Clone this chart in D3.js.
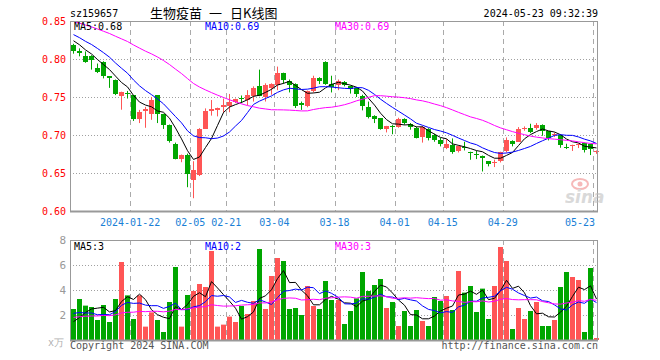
<!DOCTYPE html>
<html><head><meta charset="utf-8">
<script src="https://cdn.jsdelivr.net/npm/d3@7"></script>
<style>body{margin:0;background:#fff}svg{display:block}</style>
</head><body>
<svg id="c" width="660" height="360"></svg>
<script>
const dates = ["2024-01-08","2024-01-09","2024-01-10","2024-01-11","2024-01-12","2024-01-15","2024-01-16","2024-01-17","2024-01-18","2024-01-19",
"2024-01-22","2024-01-23","2024-01-24","2024-01-25","2024-01-26","2024-01-29","2024-01-30","2024-01-31","2024-02-01","2024-02-02",
"2024-02-05","2024-02-06","2024-02-07","2024-02-08","2024-02-19","2024-02-20","2024-02-21","2024-02-22","2024-02-23","2024-02-26",
"2024-02-27","2024-02-28","2024-02-29","2024-03-01","2024-03-04","2024-03-05","2024-03-06","2024-03-07","2024-03-08","2024-03-11",
"2024-03-12","2024-03-13","2024-03-14","2024-03-15","2024-03-18","2024-03-19","2024-03-20","2024-03-21","2024-03-22","2024-03-25",
"2024-03-26","2024-03-27","2024-03-28","2024-03-29","2024-04-01","2024-04-02","2024-04-03","2024-04-08","2024-04-09","2024-04-10",
"2024-04-11","2024-04-12","2024-04-15","2024-04-16","2024-04-17","2024-04-18","2024-04-19","2024-04-22","2024-04-23","2024-04-24",
"2024-04-25","2024-04-26","2024-04-29","2024-04-30","2024-05-06","2024-05-07","2024-05-08","2024-05-09","2024-05-10","2024-05-13",
"2024-05-14","2024-05-15","2024-05-16","2024-05-17","2024-05-20","2024-05-21","2024-05-22","2024-05-23"];

const open = [.818,.8105,.8035,.804,.7885,.7955,.777,.772,.7517,.7555,
.752,.721,.7315,.727,.752,.727,.7138,.6884,.6678,.6743,
.641,.648,.7085,.7313,.7335,.737,.7385,.744,.7485,.7465,
.7508,.764,.750,.762,.766,.7815,.7705,.7675,.742,.7377,
.7575,.775,.7956,.7675,.7653,.770,.764,.7614,.7517,.7368,
.7254,.7218,.7078,.7115,.7105,.7214,.714,.7087,.698,.7078,
.700,.6937,.6823,.6872,.6784,.684,.6775,.6748,.6727,.6657,
.6631,.6652,.6784,.692,.6911,.708,.7095,.709,.7131,.7047,
.6999,.7003,.6848,.6863,.687,.6893,.6876,.678];
const high = [.820,.814,.810,.805,.794,.797,.777,.773,.757,.758,
.7525,.733,.737,.750,.752,.728,.7138,.690,.6743,.6755,
.6655,.709,.735,.746,.736,.748,.754,.748,.752,.759,
.764,.786,.768,.768,.790,.782,.773,.768,.744,.7585,
.778,.776,.797,.778,.773,.771,.765,.763,.753,.744,
.726,.7218,.712,.713,.7227,.722,.7157,.711,.712,.709,
.7017,.696,.6947,.6955,.6863,.6912,.678,.6793,.673,.6657,
.6675,.678,.6968,.693,.7104,.7113,.7148,.7157,.714,.705,
.7034,.701,.6885,.6872,.689,.690,.6885,.6797];
const low = [.807,.8035,.795,.786,.7815,.7745,.762,.7525,.7333,.748,
.7185,.7157,.7095,.720,.7157,.708,.690,.668,.6642,.6313,
.6168,.646,.708,.7255,.7245,.729,.730,.742,.742,.739,
.744,.751,.744,.753,.759,.7675,.756,.7355,.733,.7365,
.756,.767,.766,.756,.759,.764,.7545,.750,.7324,.7218,
.7157,.707,.7034,.701,.7096,.7135,.707,.6955,.690,.6929,
.6911,.685,.6814,.6753,.677,.6797,.6674,.6683,.652,.6587,
.6578,.6639,.677,.685,.691,.7056,.7025,.707,.699,.6929,
.6973,.6832,.6815,.679,.6828,.677,.6736,.6753];
const close = [.810,.8075,.7965,.799,.7835,.777,.7745,.7535,.757,.7545,
.721,.7305,.734,.7455,.727,.7125,.6918,.669,.6743,.6493,
.6546,.7082,.7313,.7336,.735,.740,.744,.7475,.7475,.753,
.7622,.7517,.766,.7675,.7815,.773,.7655,.7385,.740,.7575,
.775,.7705,.767,.7627,.7715,.7657,.761,.7535,.7377,.7236,
.721,.7078,.7113,.710,.7214,.7157,.710,.6964,.7105,.6955,
.693,.6885,.6876,.677,.6859,.6832,.677,.6745,.6692,.6622,
.6644,.677,.6929,.6885,.7078,.709,.7043,.7131,.7052,.6955,
.7016,.6867,.6845,.6872,.6876,.6797,.6815,.679];
const volume = [2.48,3.28,2.75,2.64,1.6,2.8,1.44,3.28,6.24,3.57,
1.68,3.57,1.07,2.21,1.6,0.64,3.04,5.84,1.07,3.6,
3.92,4.48,4.24,7.12,1.07,1.23,1.87,1.44,2.72,2.08,
3.12,7.28,2.48,5.12,6.56,6.32,2.48,2.56,2.0,4.32,
2.72,2.48,4.72,3.2,3.2,1.28,2.32,3.33,5.44,3.92,
4.4,4.88,2.56,3.04,1.12,2.32,1.12,2.4,1.52,1.12,
3.44,3.12,3.52,2.4,5.52,3.79,4.32,2.24,4.11,1.68,
4.32,7.44,6.32,0.88,2.56,1.68,2.32,3.04,1.12,1.12,
1.6,4.24,5.44,5.04,4.8,0.64,5.76,0.16];
// closes / volumes of the 29 sessions before the window
const prevClose = [.875,.872,.870,.868,.866,.864,.862,.860,.858,.857,.856,.855,.852,.850,
.852,.850,.850,.849,.848,.848,
.848,.845,.840,.836,.832,.834,.830,.826,.820];
const prevVolume = [1.8,1.5,2.1,1.4,1.6,1.9,1.3,1.7,2.0,1.5,1.6,1.8,1.2,1.7,1.9,1.4,1.6,1.8,1.5,1.7,
2.5,3.2,2.6,3.0,2.6,1.63,0.75,1.24,1.25];
const tickDates = ["2024-01-22","2024-02-05","2024-02-21","2024-03-04","2024-03-18","2024-04-01","2024-04-15","2024-04-29","2024-05-23"];
const priceTicks = [0.60,0.65,0.70,0.75,0.80,0.85];
const volTicks = [2,4,6,8];
const maPeriods = [5,10,30];
const maColors = ["#000000","#0000ff","#ff00ff"];
const titleParts = ["生物疫苗", "一", "日K线图"];

const svg = d3.select("#c");
const L = 70, R = 598, PT = 21, PB = 211, VT = 240, VB = 340;
const MONO = "'DejaVu Sans Mono', monospace";
const UP = "#ff5555", DOWN = "#00a600";
const n = dates.length;

const x = d3.scaleBand().domain(d3.range(n)).range([L, R]).paddingInner(1/6).paddingOuter(0).align(0);
const cx = i => Math.floor(x(i) + 0.5) + 3.5;
const y = d3.scaleLinear().domain([0.60, 0.85]).range([PB, PT]);
const yv = d3.scaleLinear().domain([0, 8]).range([VB, VT]);

function movAvg(series, prev, p) {
  const all = prev.concat(series), off = prev.length;
  return series.map((_, i) => d3.mean(all.slice(off + i - p + 1, off + i + 1)));
}

// grids
function panelGrid(top, bottom, yScale, ticks) {
  const g = svg.append("g");
  g.selectAll("line.h").data(ticks).join("line")
    .attr("x1", L).attr("x2", R)
    .attr("y1", d => Math.round(yScale(d)) + 0.5).attr("y2", d => Math.round(yScale(d)) + 0.5)
    .attr("stroke", "#a0a0a0").attr("stroke-dasharray", "1,2");
  g.selectAll("line.v").data(tickDates).join("line")
    .attr("x1", d => Math.round(x(dates.indexOf(d))) + 0.5)
    .attr("x2", d => Math.round(x(dates.indexOf(d))) + 0.5)
    .attr("y1", top).attr("y2", bottom)
    .attr("stroke", "#aaaaaa").attr("stroke-dasharray", "5,4");
}
panelGrid(PT, PB, y, priceTicks.filter(d => d > 0.6 && d < 0.85));
panelGrid(VT, VB, yv, volTicks.filter(d => d < 8));

// candles
const cg = svg.append("g");
d3.range(n).forEach(i => {
  const up = close[i] >= open[i];
  const col = up ? UP : DOWN;
  cg.append("line").attr("x1", cx(i)).attr("x2", cx(i))
    .attr("y1", y(high[i])).attr("y2", y(low[i])).attr("stroke", col);
  const top = Math.round(y(Math.max(open[i], close[i])));
  const bot = Math.round(y(Math.min(open[i], close[i])));
  cg.append("rect").attr("x", cx(i) - 2.5).attr("width", 5)
    .attr("y", top).attr("height", Math.max(1, bot - top)).attr("fill", col);
});

// volume bars
svg.append("g").selectAll("rect").data(volume).join("rect")
  .attr("x", (d, i) => cx(i) - 2.5).attr("width", 5)
  .attr("y", d => yv(d)).attr("height", d => VB - yv(d))
  .attr("fill", (d, i) => close[i] >= open[i] ? UP : DOWN);

// moving averages
const pLine = d3.line().x((d, i) => cx(i)).y(d => y(d));
const vLine = d3.line().x((d, i) => cx(i)).y(d => yv(d));
const priceMA = maPeriods.map(p => movAvg(close, prevClose, p));
const volMA = maPeriods.map(p => movAvg(volume, prevVolume, p));
priceMA.forEach((m, k) => svg.append("path").attr("d", pLine(m)).attr("fill", "none").attr("stroke", maColors[k]).attr("stroke-width", 1));
volMA.forEach((m, k) => svg.append("path").attr("d", vLine(m)).attr("fill", "none").attr("stroke", maColors[k]).attr("stroke-width", 1));

// frames
[[PT, PB], [VT, VB]].forEach(([t, b]) => {
  svg.append("rect").attr("x", L + 0.5).attr("y", t + 0.5).attr("width", R - L - 1).attr("height", b - t)
    .attr("fill", "none").attr("stroke", "#999").attr("stroke-width", 1);
});
svg.append("line").attr("x1", L).attr("x2", R).attr("y1", PB + 0.5).attr("y2", PB + 0.5).attr("stroke", "#999").attr("stroke-width", 2);
svg.append("line").attr("x1", L).attr("x2", R).attr("y1", VB + 0.5).attr("y2", VB + 0.5).attr("stroke", "#999").attr("stroke-width", 2);

// axis labels
const txt = (s, xx, yy, col, anchor, size) => svg.append("text").attr("x", xx).attr("y", yy)
  .attr("fill", col).attr("text-anchor", anchor || "start").attr("font-family", MONO)
  .attr("font-size", size || 10).text(s);

priceTicks.forEach(t => txt(t.toFixed(2), 66, y(t) + 4, "#ff0000", "end"));
volTicks.forEach(t => txt(String(t), 66, yv(t) + 4, "#999999", "end", 11));
txt("x万", 48, 346, "#b0b0b0", "start", 10);

tickDates.forEach((d, k) => {
  const gx = x(dates.indexOf(d));
  const label = k === 0 ? d : d.slice(5);
  const w = label.length * 6.02;
  let xx = gx, anchor = "middle";
  if (gx + w / 2 > R - 2) { xx = R - 3; anchor = "end"; }
  txt(label, xx, 226, "#1a7fd6", anchor);
});

// header
txt("sz159657", 70, 17, "#000");
const titleX = [150, 209, 230];
titleParts.forEach((s, k) => svg.append("text").attr("x", titleX[k]).attr("y", 18)
  .attr("font-family", "'Noto Sans CJK SC', sans-serif").attr("font-size", 13).attr("fill", "#000").text(s));
txt("2024-05-23 09:32:39", R, 17, "#000", "end");

// MA legends
const last = a => a[a.length - 1];
const lx = [74, 205, 335];
maPeriods.forEach((p, k) => {
  txt("MA" + p + ":" + last(priceMA[k]).toFixed(2), lx[k], 30, maColors[k]);
  txt("MA" + p + ":" + Math.floor(last(volMA[k])), lx[k], 250, maColors[k]);
});

// footer
txt("Copyright 2024 SINA.COM", 70, 349, "#555");
txt("http://finance.sina.com.cn", R, 349, "#555", "end");

// sina watermark
const wm = svg.append("g").attr("opacity", 0.55);
wm.append("ellipse").attr("cx", 580).attr("cy", 184).attr("rx", 8).attr("ry", 5).attr("fill", "none").attr("stroke", "#f08080").attr("stroke-width", 2);
wm.append("circle").attr("cx", 580).attr("cy", 184).attr("r", 2.5).attr("fill", "#f08080");
wm.append("text").attr("x", 565).attr("y", 203).attr("font-family", "'DejaVu Sans', sans-serif")
  .attr("font-style", "italic").attr("font-weight", "bold").attr("font-size", 17).attr("fill", "#bbbbbb").text("sina");
</script>
</body></html>
